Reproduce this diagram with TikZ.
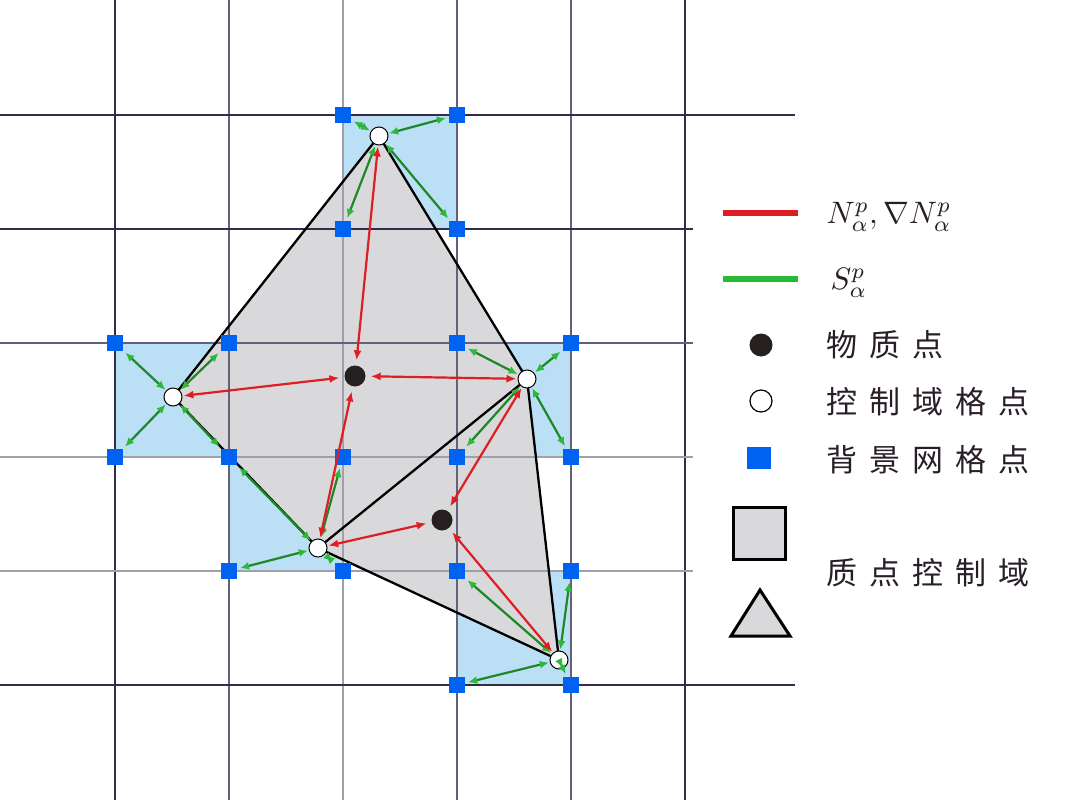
\documentclass[tikz,border=0pt]{standalone}
\usepackage{fontspec}
\newfontfamily\cjk{Noto Sans CJK SC}
\usetikzlibrary{arrows.meta}
\definecolor{gridd}{RGB}{50,45,75}
\definecolor{gridm}{RGB}{100,98,120}
\definecolor{gridl}{RGB}{160,160,172}
\definecolor{cellblue}{RGB}{187,223,245}
\definecolor{domgray}{RGB}{217,217,219}
\definecolor{ptblue}{RGB}{0,98,240}
\definecolor{arrred}{RGB}{222,30,35}
\definecolor{arrgreen}{RGB}{30,135,40}
\definecolor{tipgreen}{RGB}{45,185,55}
\definecolor{leggreen}{RGB}{40,185,55}
\definecolor{txt}{RGB}{40,30,40}
\definecolor{dotc}{RGB}{38,32,32}
\begin{document}
\begin{tikzpicture}[x=1pt,y=-1pt,
  bsq/.style={rectangle,fill=ptblue,minimum size=16pt,inner sep=0pt},
  cpt/.style={circle,draw=black,fill=white,line width=1pt,minimum size=18pt,inner sep=0pt},
  mpt/.style={circle,fill=dotc,minimum size=21pt,inner sep=0pt},
  garr/.style={draw=arrgreen,line width=2.2pt,{Latex[length=9pt,width=8pt,color=tipgreen]}-{Latex[length=9pt,width=8pt,color=tipgreen]},shorten <=1pt,shorten >=3pt},
  rarr/.style={draw=arrred,line width=2.2pt,{Latex[length=10pt,width=8pt]}-{Latex[length=10pt,width=8pt]},shorten <=5pt,shorten >=1pt},
  edge/.style={draw=black,line width=2.3pt,line join=round},
  gline/.style={line width=1.3pt},
  cjktext/.style={anchor=west,text=txt,font=\cjk\fontsize{31}{36}\selectfont,inner sep=0pt},
  mtext/.style={anchor=west,text=txt,inner sep=0pt,scale=3.1}
]
\useasboundingbox (0,0) rectangle (1074,800);
\fill[white] (0,0) rectangle (1074,800);

% control and material point positions
\coordinate (pA) at (379,136);
\coordinate (pB) at (173,397);
\coordinate (pC) at (527,379);
\coordinate (pD) at (318,548);
\coordinate (pE) at (559,660);
\coordinate (pP1) at (355,376);
\coordinate (pP2) at (442,520);

% highlighted background cells
\fill[cellblue] (343,115) rectangle (457,229);
\fill[cellblue] (115,343) rectangle (229,457);
\fill[cellblue] (457,343) rectangle (571,457);
\fill[cellblue] (229,457) rectangle (343,571);
\fill[cellblue] (457,571) rectangle (571,685);

% particle control domains
\fill[domgray] (pA) -- (pB) -- (pD) -- (pC) -- cycle;
\fill[domgray] (pC) -- (pD) -- (pE) -- cycle;

% background grid
\draw[gline,gridd] (115,0) -- (115,800);
\draw[gline,gridm] (229,0) -- (229,800);
\draw[gline,gridl] (343,0) -- (343,800);
\draw[gline,gridm] (457,0) -- (457,800);
\draw[gline,gridm] (571,0) -- (571,800);
\draw[gline,gridd] (685,0) -- (685,800);
\draw[gline,gridd] (0,115) -- (795,115);
\draw[gline,gridd] (0,229) -- (693,229);
\draw[gline,gridm] (0,343) -- (693,343);
\draw[gline,gridl] (0,457) -- (693,457);
\draw[gline,gridl] (0,571) -- (693,571);
\draw[gline,gridd] (0,685) -- (795,685);

% domain edges
\draw[edge] (pA) -- (pB) -- (pD) -- (pC) -- cycle;
\draw[edge] (pD) -- (pE) -- (pC);

% background grid points
\foreach \i/\j in {3/1,4/1,3/2,4/2,1/3,2/3,1/4,2/4,4/3,5/3,4/4,5/4,3/4,2/5,3/5,4/5,5/5,4/6,5/6}{
  \node[bsq] (q\i\j) at ({115+114*(\i-1)},{115+114*(\j-1)}) {};
}

% control domain points
\node[cpt] (A) at (pA) {};
\node[cpt] (B) at (pB) {};
\node[cpt] (C) at (pC) {};
\node[cpt] (D) at (pD) {};
\node[cpt] (E) at (pE) {};
% material points
\node[mpt] (P1) at (pP1) {};
\node[mpt] (P2) at (pP2) {};

% S arrows
\foreach \q in {q31,q41,q32,q42}{\draw[garr] (A) -- (\q);}
\foreach \q in {q13,q23,q14,q24}{\draw[garr] (B) -- (\q);}
\foreach \q in {q43,q53,q44,q54}{\draw[garr] (C) -- (\q);}
\foreach \q in {q24,q34,q25,q35}{\draw[garr] (D) -- (\q);}
\foreach \q in {q45,q55,q46,q56}{\draw[garr] (E) -- (\q);}

% N arrows
\foreach \c in {A,B,C,D}{\draw[rarr] (P1) -- (\c);}
\foreach \c in {C,D,E}{\draw[rarr] (P2) -- (\c);}

% legend
\coordinate (lr1) at (723,213); \coordinate (lr2) at (798,213);
\coordinate (lg1) at (723,279); \coordinate (lg2) at (798,279);
\draw[arrred,line width=5.5pt] (lr1) -- (lr2);
\draw[leggreen,line width=5.5pt] (lg1) -- (lg2);
\node[mtext] (tN) at (826,217) {$N^{p}_{\alpha},\nabla N^{p}_{\alpha}$};
\node[mtext] (tS) at (830,283) {$S^{p}_{\alpha}$};
\node[circle,fill=dotc,minimum size=23pt,inner sep=0pt] (lm) at (761,345) {};
\node[cjktext] (t1) at (826,345) {物\kern12pt 质\kern12pt 点};
\node[circle,draw=black,fill=white,line width=1.2pt,minimum size=22pt,inner sep=0pt] (lc) at (761,401) {};
\node[cjktext] (t2) at (826,402) {控\kern12pt 制\kern12pt 域\kern12pt 格\kern12pt 点};
\node[rectangle,fill=ptblue,minimum width=24pt,minimum height=22pt,inner sep=0pt] (lb) at (759,458) {};
\node[cjktext] (t3) at (826,460) {背\kern12pt 景\kern12pt 网\kern12pt 格\kern12pt 点};
\node[rectangle,draw=black,fill=domgray,line width=3pt,minimum size=52pt,inner sep=0pt] (lsq) at (759,533) {};
\draw[black,line width=3pt,fill=domgray,line join=miter] (760,590) -- (790,636) -- (731,636) -- cycle;
\node[cjktext] (t4) at (826,573) {质\kern12pt 点\kern12pt 控\kern12pt 制\kern12pt 域};
\end{tikzpicture}
\end{document}
